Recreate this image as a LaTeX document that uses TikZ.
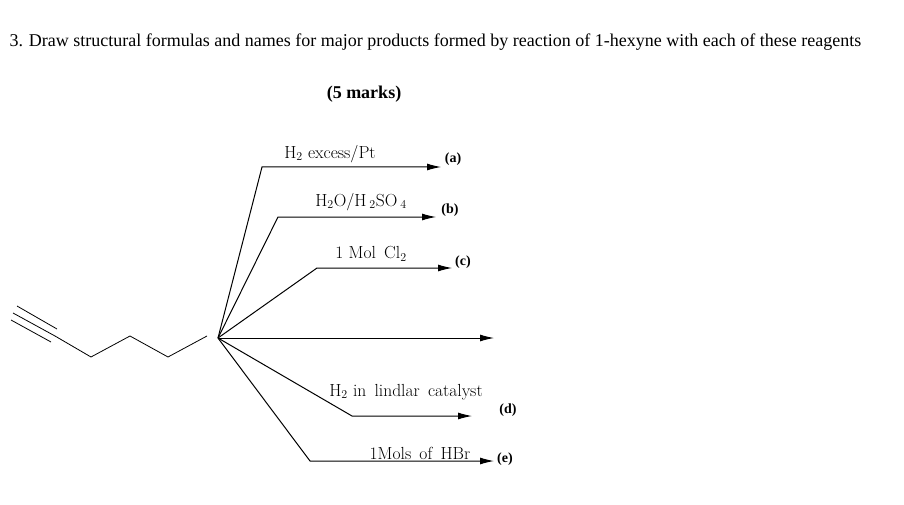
\documentclass[tikz,border=0pt]{standalone}
\usepackage{fontspec}
\usetikzlibrary{arrows.meta}
\setmainfont{Latin Modern Roman}
\newfontfamily\tnr{Liberation Serif}
\begin{document}
\begin{tikzpicture}[x=1pt,y=-1pt,line width=1pt,
  bond/.style={line width=0.8pt},
  arr/.style={-{Latex[length=14pt,width=7pt]}},
  lab/.style={font=\fontsize{17.5}{19}\selectfont,inner sep=0pt},
  tag/.style={font=\tnr\fontsize{14}{16}\selectfont\bfseries,inner sep=0pt}]
\useasboundingbox (0,0) rectangle (904,505);
\node[anchor=west,inner sep=0pt,font=\tnr\fontsize{18}{20}\selectfont] (title) at (9,42) {3. Draw structural formulas and names for major products formed by reaction of 1-hexyne with each of these reagents};
\node[font=\tnr\fontsize{18}{20}\selectfont\bfseries,inner sep=0pt] (marks) at (364,94) {(5 marks)};
% alkyne
\draw[bond] (13,313) -- (55,336);
\draw[bond] (17,306) -- (57,329);
\draw[bond] (11,320) -- (51,342);
\draw[bond] (55,336) -- (91,357) -- (130,336) -- (168,357) -- (207,336);
\coordinate (o) at (218,338);
\coordinate (a1) at (262,167); \coordinate (a2) at (441,167);
\coordinate (b1) at (278,217); \coordinate (b2) at (436,217);
\coordinate (c1) at (317,268); \coordinate (c2) at (452,268);
\coordinate (s2) at (494,338);
\coordinate (d1) at (352,416); \coordinate (d2) at (472,416);
\coordinate (e1) at (310,461); \coordinate (e2) at (494,461);
\draw[arr] (o) -- (a1) -- (a2);
\draw[arr] (o) -- (b1) -- (b2);
\draw[arr] (o) -- (c1) -- (c2);
\draw[arr] (o) -- (s2);
\draw[arr] (o) -- (d1) -- (d2);
\draw[arr] (o) -- (e1) -- (e2);
\node[lab] (la) at (330,154) {H$_2$ excess/Pt};
\node[lab] (lb) at (361,202) {H$_2$O/H$\,_2$SO$\,_4$};
\node[lab] (lc) at (371,254) {1 Mol\, Cl$_2$};
\node[lab] (ld) at (406,392) {H$_2$ in\, lindlar\, catalyst};
\node[lab] (le) at (420,453) {1Mols\, of\, HBr};
\node[tag] (ta) at (453,159) {(a)};
\node[tag] (tb) at (450,210) {(b)};
\node[tag] (tc) at (463,262) {(c)};
\node[tag] (td) at (508,410) {(d)};
\node[tag] (te) at (505,459) {(e)};
\end{tikzpicture}
\end{document}
